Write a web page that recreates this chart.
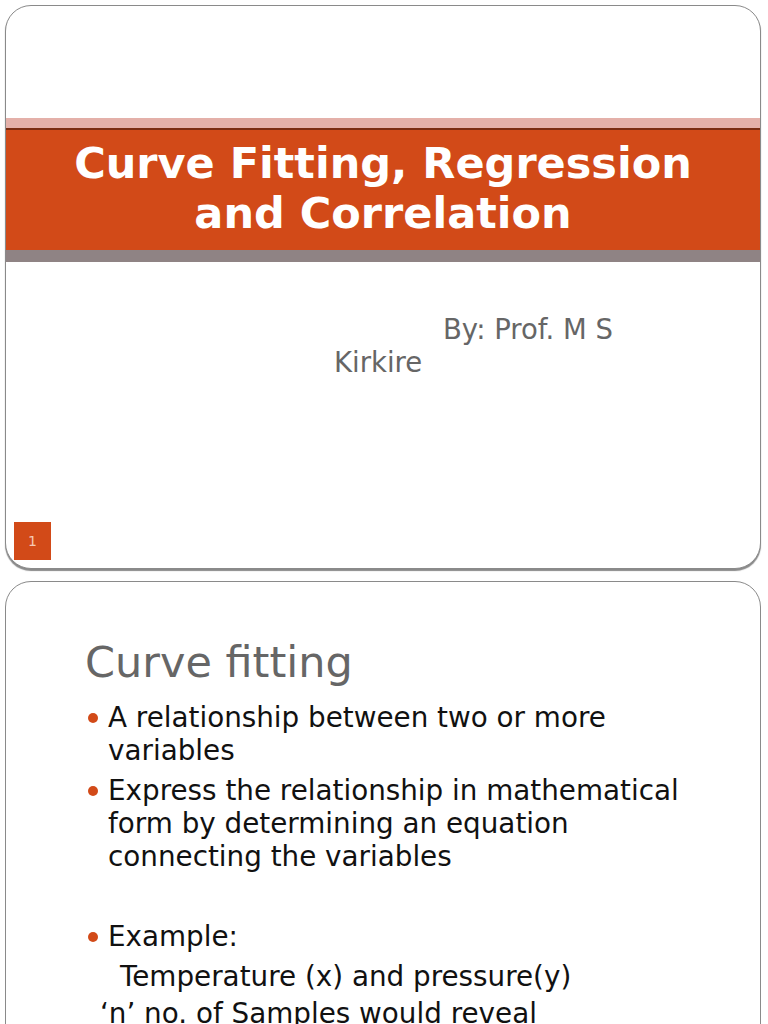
<!DOCTYPE html>
<html>
<head>
<meta charset="utf-8">
<script src="https://cdn.jsdelivr.net/npm/chart.js@4/dist/chart.umd.min.js"></script>
<style>
  html, body { margin: 0; padding: 0; background: #fff; }
  body { width: 768px; height: 1024px; position: relative; overflow: hidden;
         font-family: "DejaVu Sans", sans-serif; }
  .slide { position: absolute; left: 5px; width: 756px; background: #fff;
           border: 1px solid #8a8a8a; border-radius: 26px; box-sizing: border-box; }
  #s1 { top: 5px; height: 564px; box-shadow: 0 2px 1px #8a8a8a; }
  #s2 { top: 581px; height: 500px; }
  .pink { position: absolute; left: 0; right: 0; top: 112px; height: 11px; background: #e4b0a9; }
  .dark { position: absolute; left: 0; right: 0; top: 122px; height: 2px; background: #7a2c12; }
  .band { position: absolute; left: 0; right: 0; top: 124px; height: 120px; background: #d24a18;
          color: #fff; font-weight: bold; font-size: 43px; line-height: 50px; text-align: center;
          box-sizing: border-box; padding-top: 8px; }
  .grey { position: absolute; left: 0; right: 0; top: 244px; height: 12px; background: #8f8384; }
  .sub { position: absolute; color: #666; font-size: 27.5px; white-space: nowrap; }
  .num { position: absolute; left: 8px; top: 516px; width: 37px; height: 38px; background: #d24a18;
         color: #f6c8b4; font-size: 14px; line-height: 38px; text-align: center; }
  .h2 { position: absolute; left: 79px; top: 55px; color: #666; font-size: 43px; }
  .line { position: absolute; color: #111; font-size: 27.8px; white-space: nowrap; }
  .dot { position: absolute; width: 10px; height: 10px; border-radius: 50%; background: #d24a18; }
</style>
</head>
<body>
<div class="slide" id="s1">
  <div class="pink"></div>
  <div class="dark"></div>
  <div class="band" id="title"></div>
  <div class="grey"></div>
  <div class="sub" style="left:437px; top:307px;">By: Prof. M S</div>
  <div class="sub" style="left:328px; top:340px;">Kirkire</div>
  <div class="num">1</div>
</div>
<div class="slide" id="s2">
  <div class="h2">Curve fitting</div>
  <div id="body"></div>
</div>
<script>
// slide text
const titleLines = ["Curve Fitting, Regression", "and Correlation"];
const bodyLines = [
  "A relationship between two or more",
  "variables",
  "Express the relationship in mathematical",
  "form by determining an equation",
  "connecting the variables",
  "Example:",
  "Temperature (x) and pressure(y)",
  "\u2018n\u2019 no. of Samples would reveal"
];
const bodyTops = [119, 152, 192, 225, 258, 338, 378, 415];
const bodyLefts = [102, 102, 102, 102, 102, 102, 114, 94];
const bulletRows = [0, 2, 5];

document.getElementById("title").innerHTML = titleLines.join("<br>");
const body = document.getElementById("body");
bodyLines.forEach((t, i) => {
  const d = document.createElement("div");
  d.className = "line";
  d.style.left = bodyLefts[i] + "px";
  d.style.top = bodyTops[i] + "px";
  d.textContent = t;
  body.appendChild(d);
  if (bulletRows.includes(i)) {
    const b = document.createElement("div");
    b.className = "dot";
    b.style.left = "82px";
    b.style.top = (bodyTops[i] + 12) + "px";
    body.appendChild(b);
  }
});
</script>
</body>
</html>
